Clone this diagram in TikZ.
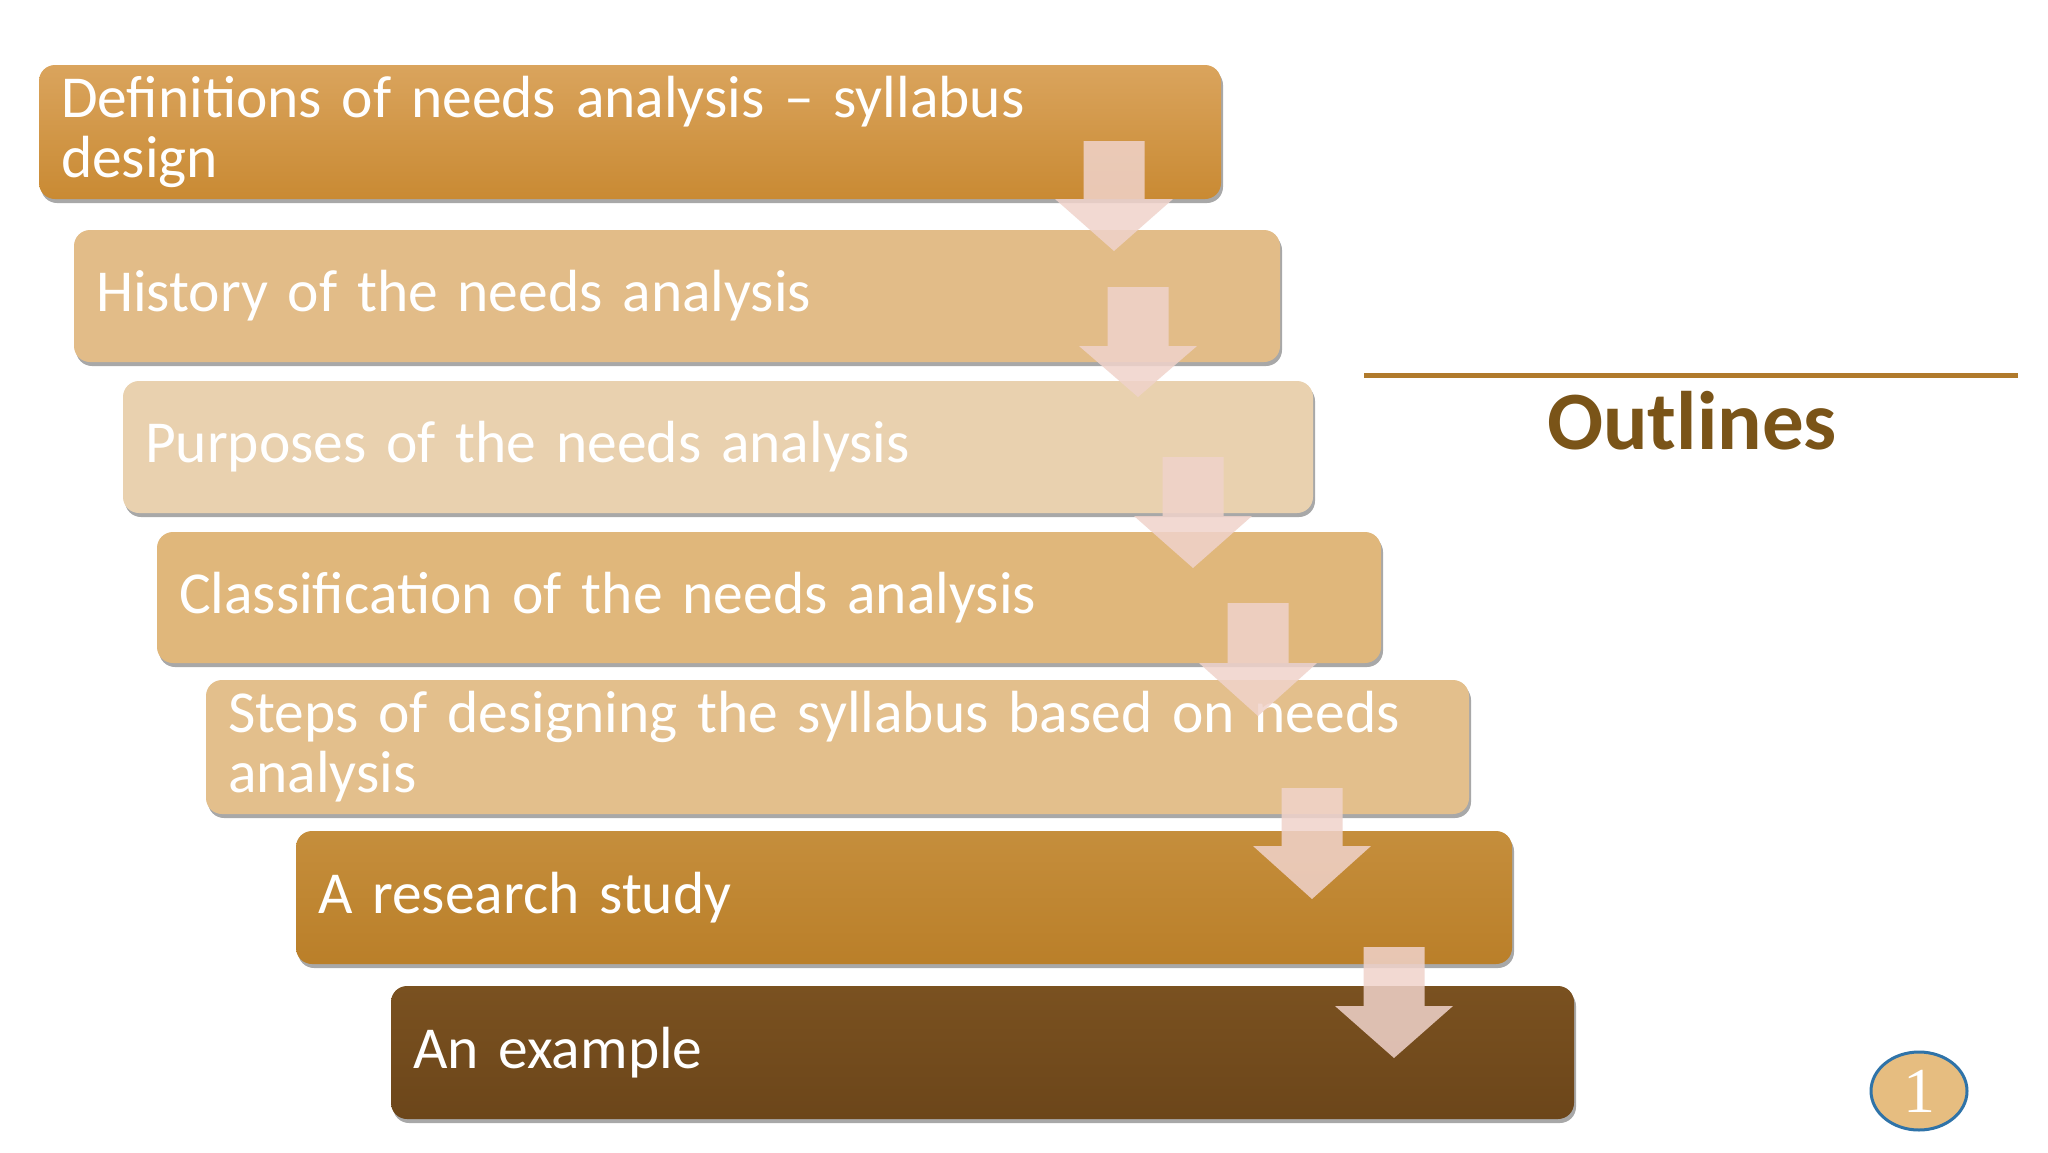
\documentclass[tikz,border=0pt]{standalone}
\usepackage{fontspec}
\setmainfont{Carlito}
\newfontfamily\badgefont{Liberation Serif}
\usetikzlibrary{shadows,shapes.geometric}
\definecolor{b1top}{HTML}{DAA45D}
\definecolor{b1bot}{HTML}{C98A33}
\definecolor{b2col}{HTML}{E2BC88}
\definecolor{b3col}{HTML}{E9D1AF}
\definecolor{b4col}{HTML}{E0B77B}
\definecolor{b5col}{HTML}{E3BF8C}
\definecolor{b6top}{HTML}{C58E3C}
\definecolor{b6bot}{HTML}{BA7F29}
\definecolor{b7top}{HTML}{7A5120}
\definecolor{b7bot}{HTML}{6C461A}
\definecolor{arrowpink}{HTML}{F0D3CB}
\definecolor{rulecol}{HTML}{B07A2C}
\definecolor{titlecol}{HTML}{7A5418}
\definecolor{badgefill}{HTML}{E6BD80}
\definecolor{badgeblue}{HTML}{2F73A8}
\tikzset{
  stepbox/.style={rectangle, rounded corners=16pt, inner xsep=22pt, inner ysep=0pt,
    align=left, text=white, font=\fontsize{59.5}{60}\selectfont,
    drop shadow={shadow xshift=2pt, shadow yshift=-4pt, opacity=0.45, fill=black!75}},
  flowarrow/.style={fill=arrowpink, fill opacity=0.85, draw=none},
}
\newcommand\flowdownarrow[4]{%
  \path[flowarrow] ({#1-30.5},#2) -- ({#1+30.5},#2) -- ({#1+30.5},#3) -- ({#1+59},#3)
    -- (#1,#4) -- ({#1-59},#3) -- ({#1-30.5},#3) -- cycle;}
\begin{document}
\begin{tikzpicture}[x=1pt,y=-1pt]
\useasboundingbox (0,0) rectangle (2048,1152);
\fill[white] (0,0) rectangle (2048,1152);

% boxes
\node[stepbox, top color=b1top, bottom color=b1bot, minimum width=1182pt, minimum height=134pt, text width=1138pt]
  (b1) at (630,132) {Definitions of needs analysis – syllabus\\design};
\node[stepbox, fill=b2col, minimum width=1206pt, minimum height=132pt, text width=1162pt]
  (b2) at (677,296) {History of the needs analysis};
\node[stepbox, fill=b3col, minimum width=1190pt, minimum height=132pt, text width=1146pt]
  (b3) at (718,447) {Purposes of the needs analysis};
\node[stepbox, fill=b4col, minimum width=1224pt, minimum height=131pt, text width=1180pt]
  (b4) at (769,597.5) {Classification of the needs analysis};
\node[stepbox, fill=b5col, minimum width=1263pt, minimum height=134pt, text width=1219pt]
  (b5) at (837.5,747) {Steps of designing the syllabus based on needs\\analysis};
\node[stepbox, top color=b6top, bottom color=b6bot, minimum width=1216pt, minimum height=133pt, text width=1172pt]
  (b6) at (904,897.5) {A research study};
\node[stepbox, top color=b7top, bottom color=b7bot, minimum width=1183pt, minimum height=133pt, text width=1139pt]
  (b7) at (982.5,1052.5) {An example};

% arrows between steps
\flowdownarrow{1114}{141}{199}{251}
\flowdownarrow{1138}{287}{346}{397}
\flowdownarrow{1193}{457}{516}{568}
\flowdownarrow{1258}{603}{663}{716}
\flowdownarrow{1312}{788}{846}{899}
\flowdownarrow{1394}{947}{1006}{1058}

% title
\coordinate (ruleL) at (1364,375);
\coordinate (ruleR) at (2018,375);
\draw[rulecol, line width=5pt] (ruleL) -- (ruleR);
\node[text=titlecol, font=\bfseries\fontsize{83}{83}\selectfont] (title) at (1692,421) {Outlines};

% page badge
\node[ellipse, draw=badgeblue, line width=3pt, fill=badgefill, minimum width=96pt, minimum height=78pt,
  inner sep=0pt, text=white, font=\badgefont\fontsize{64}{64}\selectfont] (page) at (1919,1091) {1};
\end{tikzpicture}
\end{document}
